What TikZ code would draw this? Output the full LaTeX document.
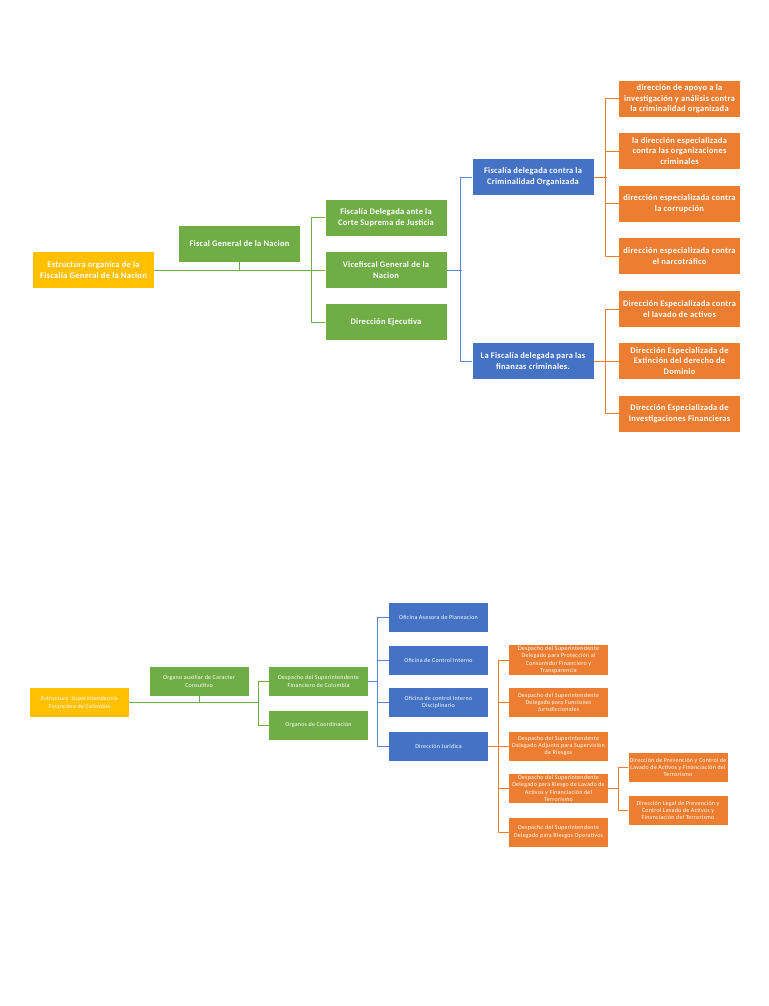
\documentclass[tikz,border=0pt]{standalone}
\usepackage{fontspec}
\setmainfont{Carlito}
\newfontfamily\boxfont[LetterSpace=3]{Carlito}
\newfontfamily\sboxfont[LetterSpace=4]{Carlito}
\usepackage{tikz}
\usetikzlibrary{calc,positioning}

\definecolor{offyellow}{HTML}{FFC000}
\definecolor{offgreen}{HTML}{70AD47}
\definecolor{offblue}{HTML}{4472C4}
\definecolor{offorange}{HTML}{ED7D31}

\begin{document}
\begin{tikzpicture}[x=1pt, y=-1pt, line join=round,
  box/.style={inner sep=1pt, text=white, align=center, minimum width=121pt, minimum height=36pt,
    font=\boxfont\bfseries\fontsize{8.5}{10.6}\selectfont},
  sbox/.style={box, minimum width=99pt, minimum height=29pt, font=\sboxfont\fontsize{6}{7.3}\selectfont},
  ybox/.style={fill=offyellow}, gbox/.style={fill=offgreen},
  bbox/.style={fill=offblue}, obox/.style={fill=offorange},
  gline/.style={draw=offgreen, line width=1pt},
  bline/.style={draw=offblue!85, line width=1pt},
  oline/.style={draw=offorange, line width=1pt},
  thin/.style={line width=0.8pt}]
\useasboundingbox (0,0) rectangle (768,1006);

% Fiscalia General de la Nacion
\node[box,ybox] (fge) at (93.5,270) {Estructura organica de la\\Fiscalía General de la Nacion};
\node[box,gbox] (fgn) at (239.5,243.5) {Fiscal General de la Nacion};
\node[box,gbox] (corte) at (386,217.5) {Fiscalía Delegada ante la\\Corte Suprema de Justicia};
\node[box,gbox] (vice) at (386,270) {Vicefiscal General de la\\Nacion};
\node[box,gbox] (ejec) at (386,322) {Dirección Ejecutiva};
\node[box,bbox] (crim) at (533,177) {Fiscalía delegada contra la\\Criminalidad Organizada};
\node[box,bbox] (fin) at (533,361) {La Fiscalía delegada para las\\finanzas criminales.};
\node[box,obox] (apoyo) at (679.5,99) {dirección de apoyo a la\\investigación y análisis contra\\la criminalidad organizada};
\node[box,obox] (orgcrim) at (679.5,151) {la dirección especializada\\contra las organizaciones\\criminales};
\node[box,obox] (corrup) at (679.5,203.5) {dirección especializada contra\\la corrupción};
\node[box,obox] (narco) at (679.5,256) {dirección especializada contra\\el narcotráfico};
\node[box,obox] (lavado) at (679.5,309) {Dirección Especializada contra\\el lavado de activos};
\node[box,obox] (extin) at (679.5,361) {Dirección Especializada de\\Extinción del derecho de\\Dominio};
\node[box,obox] (invfin) at (679.5,413.5) {Dirección Especializada de\\Investigaciones Financieras};

\draw[gline] (fge.east) -- (vice.west);
\draw[gline] (fgn.south) -- (fgn.south |- fge.east);
\draw[gline] (corte.west) -- ++(-14,0) |- (ejec.west);
\draw[bline] (vice.east) -- ++(15,0);
\draw[bline] (crim.west) -- ++(-12,0) |- (fin.west);
\draw[oline] (crim.east) -- ++(13,0);
\draw[oline] (apoyo.west) -- ++(-13,0) |- (narco.west);
\draw[oline] (corrup.west) -- ++(-13,0);
\draw[oline] (orgcrim.west) -- ++(-13,0);
\draw[oline] (fin.east) -- ++(13,0);
\draw[oline] (lavado.west) -- ++(-13,0) |- (invfin.west);
\draw[oline] (extin.west) -- ++(-13,0);

% Superintendencia Financiera de Colombia
\node[sbox,ybox] (sfc) at (79.5,702.5) {Estructura~ Superintendencia\\Financiera de Colombia};
\node[sbox,gbox] (aux) at (199,681.5) {Organo auxiliar de Caracter\\Consultivo};
\node[sbox,gbox] (desp) at (318.5,681.5) {Despacho del Superintendente\\Financiero de Colombia};
\node[sbox,gbox] (coord) at (318.5,725) {Organos de Coordinación};
\node[sbox,bbox] (plan) at (438.5,617) {Oficina Asesora de Planeacion};
\node[sbox,bbox] (ctrl) at (438.5,660.5) {Oficina de Control Interno};
\node[sbox,bbox] (disc) at (438.5,702.5) {Oficina de control Interno\\Disciplinario};
\node[sbox,bbox] (jur) at (438.5,746) {Dirección Juridica};
\node[sbox,obox] (consum) at (558.5,660) {Despacho del Superintendente\\Delegado para Protección al\\Consumidor Financiero y\\Transparencia};
\node[sbox,obox] (juris) at (558.5,702.5) {Despacho del Superintendente\\Delegado para Funciones\\Jurisdiccionales};
\node[sbox,obox] (riesg) at (558.5,746) {Despacho del Superintendente\\Delegado Adjunto para Supervisión\\de Riesgos};
\node[sbox,obox] (lav) at (558.5,788.5) {Despacho del Superintendente\\Delegado para Riesgo de Lavado de\\Activos y Financiación del\\Terrorismo};
\node[sbox,obox] (oper) at (558.5,832) {Despacho del Superintendente\\Delegado para Riesgos Operativos};
\node[sbox,obox] (prev) at (678,767.5) {Dirección de Prevención y Control de\\Lavado de Activos y Financiación del\\Terrorismo};
\node[sbox,obox] (legal) at (678,810.5) {Dirección Legal de Prevención y\\Control Lavado de Activos y\\Financiación del Terrorismo};

\coordinate (gbus) at ($(desp.west)+(-10,0)$);
\draw[gline,thin] (sfc.east) -- (sfc.east -| gbus);
\draw[gline,thin] (aux.south) -- (aux.south |- sfc.east);
\draw[gline,thin] (desp.west) -- ++(-10,0) |- (coord.west);
\draw[bline,thin] (desp.east) -- ++(10,0);
\draw[bline,thin] (plan.west) -- ++(-11,0) |- (jur.west);
\draw[bline,thin] (ctrl.west) -- ++(-11,0);
\draw[bline,thin] (disc.west) -- ++(-11,0);
\draw[oline,thin] (jur.east) -- ++(11,0);
\draw[oline,thin] (consum.west) -- ++(-10,0) |- (oper.west);
\draw[oline,thin] (juris.west) -- ++(-10,0);
\draw[oline,thin] (riesg.west) -- ++(-10,0);
\draw[oline,thin] (lav.west) -- ++(-10,0);
\draw[oline,thin] (lav.east) -- ++(10,0);
\draw[oline,thin] (prev.west) -- ++(-10,0) |- (legal.west);
\end{tikzpicture}
\end{document}
